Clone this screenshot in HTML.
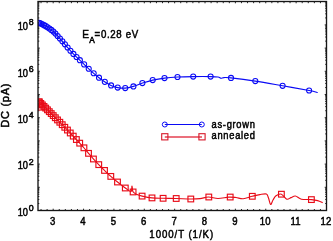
<!DOCTYPE html>
<html><head><meta charset="utf-8"><style>
html,body{margin:0;padding:0;background:#fff;width:333px;height:241px;overflow:hidden}
svg{display:block}
</style></head><body>
<svg width="333" height="241" viewBox="0 0 333 241"><rect width="333" height="241" fill="#fff"/><defs><clipPath id="c"><rect x="38.0" y="1.5" width="288.5" height="209.0"/></clipPath></defs><path d="M53.18,210.5v-1.8M53.18,1.5v1.8M83.55,210.5v-1.8M83.55,1.5v1.8M113.92,210.5v-1.8M113.92,1.5v1.8M144.29,210.5v-1.8M144.29,1.5v1.8M174.66,210.5v-1.8M174.66,1.5v1.8M205.03,210.5v-1.8M205.03,1.5v1.8M235.39,210.5v-1.8M235.39,1.5v1.8M265.76,210.5v-1.8M265.76,1.5v1.8M296.13,210.5v-1.8M296.13,1.5v1.8M326.50,210.5v-1.8M326.50,1.5v1.8M41.04,210.5v-1.5M41.04,1.5v1.7M47.11,210.5v-1.5M47.11,1.5v1.7M59.26,210.5v-1.5M59.26,1.5v1.7M65.33,210.5v-1.5M65.33,1.5v1.7M71.41,210.5v-1.5M71.41,1.5v1.7M77.48,210.5v-1.5M77.48,1.5v1.7M89.63,210.5v-1.5M89.63,1.5v1.7M95.70,210.5v-1.5M95.70,1.5v1.7M101.77,210.5v-1.5M101.77,1.5v1.7M107.85,210.5v-1.5M107.85,1.5v1.7M119.99,210.5v-1.5M119.99,1.5v1.7M126.07,210.5v-1.5M126.07,1.5v1.7M132.14,210.5v-1.5M132.14,1.5v1.7M138.22,210.5v-1.5M138.22,1.5v1.7M150.36,210.5v-1.5M150.36,1.5v1.7M156.44,210.5v-1.5M156.44,1.5v1.7M162.51,210.5v-1.5M162.51,1.5v1.7M168.58,210.5v-1.5M168.58,1.5v1.7M180.73,210.5v-1.5M180.73,1.5v1.7M186.81,210.5v-1.5M186.81,1.5v1.7M192.88,210.5v-1.5M192.88,1.5v1.7M198.95,210.5v-1.5M198.95,1.5v1.7M211.10,210.5v-1.5M211.10,1.5v1.7M217.17,210.5v-1.5M217.17,1.5v1.7M223.25,210.5v-1.5M223.25,1.5v1.7M229.32,210.5v-1.5M229.32,1.5v1.7M241.47,210.5v-1.5M241.47,1.5v1.7M247.54,210.5v-1.5M247.54,1.5v1.7M253.62,210.5v-1.5M253.62,1.5v1.7M259.69,210.5v-1.5M259.69,1.5v1.7M271.84,210.5v-1.5M271.84,1.5v1.7M277.91,210.5v-1.5M277.91,1.5v1.7M283.98,210.5v-1.5M283.98,1.5v1.7M290.06,210.5v-1.5M290.06,1.5v1.7M302.21,210.5v-1.5M302.21,1.5v1.7M308.28,210.5v-1.5M308.28,1.5v1.7M314.35,210.5v-1.5M314.35,1.5v1.7M320.43,210.5v-1.5M320.43,1.5v1.7M38.0,210.50h1.8M326.5,210.50h-1.8M38.0,203.52h1.3M326.5,203.52h-1.3M38.0,199.43h1.3M326.5,199.43h-1.3M38.0,196.53h1.3M326.5,196.53h-1.3M38.0,194.28h1.3M326.5,194.28h-1.3M38.0,192.45h1.3M326.5,192.45h-1.3M38.0,190.89h1.3M326.5,190.89h-1.3M38.0,189.55h1.3M326.5,189.55h-1.3M38.0,188.36h1.3M326.5,188.36h-1.3M38.0,187.30h1.8M326.5,187.30h-1.8M38.0,180.32h1.3M326.5,180.32h-1.3M38.0,176.23h1.3M326.5,176.23h-1.3M38.0,173.33h1.3M326.5,173.33h-1.3M38.0,171.08h1.3M326.5,171.08h-1.3M38.0,169.25h1.3M326.5,169.25h-1.3M38.0,167.69h1.3M326.5,167.69h-1.3M38.0,166.35h1.3M326.5,166.35h-1.3M38.0,165.16h1.3M326.5,165.16h-1.3M38.0,164.10h1.8M326.5,164.10h-1.8M38.0,157.12h1.3M326.5,157.12h-1.3M38.0,153.03h1.3M326.5,153.03h-1.3M38.0,150.13h1.3M326.5,150.13h-1.3M38.0,147.88h1.3M326.5,147.88h-1.3M38.0,146.05h1.3M326.5,146.05h-1.3M38.0,144.49h1.3M326.5,144.49h-1.3M38.0,143.15h1.3M326.5,143.15h-1.3M38.0,141.96h1.3M326.5,141.96h-1.3M38.0,140.90h1.8M326.5,140.90h-1.8M38.0,133.92h1.3M326.5,133.92h-1.3M38.0,129.83h1.3M326.5,129.83h-1.3M38.0,126.93h1.3M326.5,126.93h-1.3M38.0,124.68h1.3M326.5,124.68h-1.3M38.0,122.85h1.3M326.5,122.85h-1.3M38.0,121.29h1.3M326.5,121.29h-1.3M38.0,119.95h1.3M326.5,119.95h-1.3M38.0,118.76h1.3M326.5,118.76h-1.3M38.0,117.70h1.8M326.5,117.70h-1.8M38.0,110.72h1.3M326.5,110.72h-1.3M38.0,106.63h1.3M326.5,106.63h-1.3M38.0,103.73h1.3M326.5,103.73h-1.3M38.0,101.48h1.3M326.5,101.48h-1.3M38.0,99.65h1.3M326.5,99.65h-1.3M38.0,98.09h1.3M326.5,98.09h-1.3M38.0,96.75h1.3M326.5,96.75h-1.3M38.0,95.56h1.3M326.5,95.56h-1.3M38.0,94.50h1.8M326.5,94.50h-1.8M38.0,87.52h1.3M326.5,87.52h-1.3M38.0,83.43h1.3M326.5,83.43h-1.3M38.0,80.53h1.3M326.5,80.53h-1.3M38.0,78.28h1.3M326.5,78.28h-1.3M38.0,76.45h1.3M326.5,76.45h-1.3M38.0,74.89h1.3M326.5,74.89h-1.3M38.0,73.55h1.3M326.5,73.55h-1.3M38.0,72.36h1.3M326.5,72.36h-1.3M38.0,71.30h1.8M326.5,71.30h-1.8M38.0,64.32h1.3M326.5,64.32h-1.3M38.0,60.23h1.3M326.5,60.23h-1.3M38.0,57.33h1.3M326.5,57.33h-1.3M38.0,55.08h1.3M326.5,55.08h-1.3M38.0,53.25h1.3M326.5,53.25h-1.3M38.0,51.69h1.3M326.5,51.69h-1.3M38.0,50.35h1.3M326.5,50.35h-1.3M38.0,49.16h1.3M326.5,49.16h-1.3M38.0,48.10h1.8M326.5,48.10h-1.8M38.0,41.12h1.3M326.5,41.12h-1.3M38.0,37.03h1.3M326.5,37.03h-1.3M38.0,34.13h1.3M326.5,34.13h-1.3M38.0,31.88h1.3M326.5,31.88h-1.3M38.0,30.05h1.3M326.5,30.05h-1.3M38.0,28.49h1.3M326.5,28.49h-1.3M38.0,27.15h1.3M326.5,27.15h-1.3M38.0,25.96h1.3M326.5,25.96h-1.3M38.0,24.90h1.8M326.5,24.90h-1.8M38.0,17.92h1.3M326.5,17.92h-1.3M38.0,13.83h1.3M326.5,13.83h-1.3M38.0,10.93h1.3M326.5,10.93h-1.3M38.0,8.68h1.3M326.5,8.68h-1.3M38.0,6.85h1.3M326.5,6.85h-1.3M38.0,5.29h1.3M326.5,5.29h-1.3M38.0,3.95h1.3M326.5,3.95h-1.3M38.0,2.76h1.3M326.5,2.76h-1.3M38.0,1.70h1.8M326.5,1.70h-1.8" stroke="#000" stroke-width="0.85" fill="none"/><g clip-path="url(#c)"><path d="M36.00,21.60 C36.33,21.73 36.83,21.90 38.00,22.40 C39.17,22.90 41.27,23.70 43.00,24.60 C44.73,25.50 46.57,26.53 48.40,27.80 C50.23,29.07 51.92,30.23 54.00,32.20 C56.08,34.17 58.73,37.17 60.90,39.60 C63.07,42.03 64.93,44.43 67.00,46.80 C69.07,49.17 71.13,51.55 73.30,53.80 C75.47,56.05 77.92,58.27 80.00,60.30 C82.08,62.33 83.80,64.08 85.80,66.00 C87.80,67.92 89.80,69.85 92.00,71.80 C94.20,73.75 96.83,76.00 99.00,77.70 C101.17,79.40 103.00,80.72 105.00,82.00 C107.00,83.28 108.88,84.47 111.00,85.40 C113.12,86.33 115.33,87.15 117.70,87.60 C120.07,88.05 122.58,88.30 125.20,88.10 C127.82,87.90 130.53,87.23 133.40,86.40 C136.27,85.57 139.18,84.15 142.40,83.10 C145.62,82.05 149.02,80.93 152.70,80.10 C156.38,79.27 160.37,78.62 164.50,78.10 C168.63,77.58 172.72,77.25 177.50,77.00 C182.28,76.75 187.68,76.67 193.20,76.60 C198.72,76.53 206.47,76.53 210.60,76.60 C214.73,76.67 216.27,76.73 218.00,77.00 C219.73,77.27 220.00,78.10 221.00,78.20 C222.00,78.30 222.33,77.65 224.00,77.60 C225.67,77.55 225.78,77.32 231.00,77.90 C236.22,78.48 246.70,79.78 255.30,81.10 C263.90,82.42 273.63,84.23 282.60,85.80 C291.57,87.37 303.25,89.38 309.10,90.50 C314.95,91.62 316.27,92.17 317.70,92.50" stroke="#0a0af5" stroke-width="1.1" fill="none"/><path d="M36.00,99.30 C36.42,99.63 36.83,99.78 38.50,101.30 C40.17,102.82 43.08,105.55 46.00,108.40 C48.92,111.25 52.97,115.35 56.00,118.40 C59.03,121.45 61.53,123.97 64.20,126.70 C66.87,129.43 69.20,131.82 72.00,134.80 C74.80,137.78 78.98,142.40 81.00,144.60 C83.02,146.80 82.88,146.58 84.10,148.00 C85.32,149.42 86.83,151.37 88.30,153.10 C89.77,154.83 91.17,156.48 92.90,158.40 C94.63,160.32 96.77,162.60 98.70,164.60 C100.63,166.60 102.48,168.43 104.50,170.40 C106.52,172.37 108.63,174.47 110.80,176.40 C112.97,178.33 115.08,180.07 117.50,182.00 C119.92,183.93 123.05,186.42 125.30,188.00 C127.55,189.58 129.88,191.83 131.00,191.50 C132.12,191.17 131.67,185.95 132.00,186.00 C132.33,186.05 132.17,190.38 133.00,191.80 C133.83,193.22 135.48,193.78 137.00,194.50 C138.52,195.22 139.60,195.53 142.10,196.10 C144.60,196.67 148.50,197.53 152.00,197.90 C155.50,198.27 159.07,198.20 163.10,198.30 C167.13,198.40 171.58,198.38 176.20,198.50 C180.82,198.62 186.83,198.98 190.80,199.00 C194.77,199.02 197.05,198.93 200.00,198.60 C202.95,198.27 205.50,197.02 208.50,197.00 C211.50,196.98 214.62,198.48 218.00,198.50 C221.38,198.52 225.80,197.27 228.80,197.10 C231.80,196.93 233.60,197.23 236.00,197.50 C238.40,197.77 240.48,198.90 243.20,198.70 C245.92,198.50 249.53,196.98 252.30,196.30 C255.07,195.62 257.45,194.98 259.80,194.60 C262.15,194.22 264.95,193.43 266.40,194.00 C267.85,194.57 267.80,196.25 268.50,198.00 C269.20,199.75 269.85,204.17 270.60,204.50 C271.35,204.83 272.10,201.45 273.00,200.00 C273.90,198.55 274.60,196.77 276.00,195.80 C277.40,194.83 279.60,193.63 281.40,194.20 C283.20,194.77 285.20,198.63 286.80,199.20 C288.40,199.77 289.57,198.13 291.00,197.60 C292.43,197.07 293.67,195.73 295.40,196.00 C297.13,196.27 298.73,198.60 301.40,199.20 C304.07,199.80 308.70,199.37 311.40,199.60 C314.10,199.83 315.72,200.07 317.60,200.60 C319.48,201.13 321.85,202.43 322.70,202.80" stroke="#e80c18" stroke-width="1.15" fill="none" stroke-linejoin="round"/><circle cx="39.00" cy="22.82" r="2.55" stroke="#0a0af5" stroke-width="1.05" fill="none"/><circle cx="39.39" cy="22.98" r="2.55" stroke="#0a0af5" stroke-width="1.05" fill="none"/><circle cx="40.90" cy="23.61" r="2.55" stroke="#0a0af5" stroke-width="1.05" fill="none"/><circle cx="42.46" cy="24.33" r="2.55" stroke="#0a0af5" stroke-width="1.05" fill="none"/><circle cx="44.09" cy="25.18" r="2.55" stroke="#0a0af5" stroke-width="1.05" fill="none"/><circle cx="45.79" cy="26.14" r="2.55" stroke="#0a0af5" stroke-width="1.05" fill="none"/><circle cx="47.55" cy="27.23" r="2.55" stroke="#0a0af5" stroke-width="1.05" fill="none"/><circle cx="49.40" cy="28.49" r="2.55" stroke="#0a0af5" stroke-width="1.05" fill="none"/><circle cx="51.32" cy="29.90" r="2.55" stroke="#0a0af5" stroke-width="1.05" fill="none"/><circle cx="53.33" cy="31.59" r="2.55" stroke="#0a0af5" stroke-width="1.05" fill="none"/><circle cx="55.44" cy="33.62" r="2.55" stroke="#0a0af5" stroke-width="1.05" fill="none"/><circle cx="57.64" cy="35.97" r="2.55" stroke="#0a0af5" stroke-width="1.05" fill="none"/><circle cx="59.95" cy="38.53" r="2.55" stroke="#0a0af5" stroke-width="1.05" fill="none"/><circle cx="62.38" cy="41.30" r="2.55" stroke="#0a0af5" stroke-width="1.05" fill="none"/><circle cx="64.92" cy="44.35" r="2.55" stroke="#0a0af5" stroke-width="1.05" fill="none"/><circle cx="67.60" cy="47.49" r="2.55" stroke="#0a0af5" stroke-width="1.05" fill="none"/><circle cx="70.43" cy="50.70" r="2.55" stroke="#0a0af5" stroke-width="1.05" fill="none"/><circle cx="73.41" cy="53.91" r="2.55" stroke="#0a0af5" stroke-width="1.05" fill="none"/><circle cx="76.55" cy="57.01" r="2.55" stroke="#0a0af5" stroke-width="1.05" fill="none"/><circle cx="79.88" cy="60.19" r="2.55" stroke="#0a0af5" stroke-width="1.05" fill="none"/><circle cx="84.15" cy="64.39" r="2.55" stroke="#0a0af5" stroke-width="1.05" fill="none"/><circle cx="88.73" cy="68.79" r="2.55" stroke="#0a0af5" stroke-width="1.05" fill="none"/><circle cx="93.67" cy="73.26" r="2.55" stroke="#0a0af5" stroke-width="1.05" fill="none"/><circle cx="99.01" cy="77.70" r="2.55" stroke="#0a0af5" stroke-width="1.05" fill="none"/><circle cx="104.80" cy="81.87" r="2.55" stroke="#0a0af5" stroke-width="1.05" fill="none"/><circle cx="111.10" cy="85.44" r="2.55" stroke="#0a0af5" stroke-width="1.05" fill="none"/><circle cx="117.70" cy="87.60" r="2.55" stroke="#0a0af5" stroke-width="1.05" fill="none"/><circle cx="125.25" cy="88.10" r="2.55" stroke="#0a0af5" stroke-width="1.05" fill="none"/><circle cx="133.40" cy="86.40" r="2.55" stroke="#0a0af5" stroke-width="1.05" fill="none"/><circle cx="142.40" cy="83.10" r="2.55" stroke="#0a0af5" stroke-width="1.05" fill="none"/><circle cx="152.70" cy="80.10" r="2.55" stroke="#0a0af5" stroke-width="1.05" fill="none"/><circle cx="164.50" cy="78.10" r="2.55" stroke="#0a0af5" stroke-width="1.05" fill="none"/><circle cx="177.50" cy="77.00" r="2.55" stroke="#0a0af5" stroke-width="1.05" fill="none"/><circle cx="193.20" cy="76.60" r="2.55" stroke="#0a0af5" stroke-width="1.05" fill="none"/><circle cx="210.60" cy="76.60" r="2.55" stroke="#0a0af5" stroke-width="1.05" fill="none"/><circle cx="231.00" cy="77.90" r="2.55" stroke="#0a0af5" stroke-width="1.05" fill="none"/><circle cx="255.30" cy="81.10" r="2.55" stroke="#0a0af5" stroke-width="1.05" fill="none"/><circle cx="282.60" cy="85.80" r="2.55" stroke="#0a0af5" stroke-width="1.05" fill="none"/><circle cx="309.10" cy="90.50" r="2.55" stroke="#0a0af5" stroke-width="1.05" fill="none"/><rect x="36.15" y="98.91" width="5.7" height="5.7" stroke="#e80c18" stroke-width="1.15" fill="none"/><rect x="36.46" y="99.20" width="5.7" height="5.7" stroke="#e80c18" stroke-width="1.15" fill="none"/><rect x="37.97" y="100.59" width="5.7" height="5.7" stroke="#e80c18" stroke-width="1.15" fill="none"/><rect x="39.53" y="102.06" width="5.7" height="5.7" stroke="#e80c18" stroke-width="1.15" fill="none"/><rect x="41.15" y="103.61" width="5.7" height="5.7" stroke="#e80c18" stroke-width="1.15" fill="none"/><rect x="42.84" y="105.25" width="5.7" height="5.7" stroke="#e80c18" stroke-width="1.15" fill="none"/><rect x="44.61" y="106.98" width="5.7" height="5.7" stroke="#e80c18" stroke-width="1.15" fill="none"/><rect x="46.45" y="108.81" width="5.7" height="5.7" stroke="#e80c18" stroke-width="1.15" fill="none"/><rect x="48.37" y="110.73" width="5.7" height="5.7" stroke="#e80c18" stroke-width="1.15" fill="none"/><rect x="50.37" y="112.75" width="5.7" height="5.7" stroke="#e80c18" stroke-width="1.15" fill="none"/><rect x="52.47" y="114.87" width="5.7" height="5.7" stroke="#e80c18" stroke-width="1.15" fill="none"/><rect x="54.67" y="117.08" width="5.7" height="5.7" stroke="#e80c18" stroke-width="1.15" fill="none"/><rect x="56.97" y="119.40" width="5.7" height="5.7" stroke="#e80c18" stroke-width="1.15" fill="none"/><rect x="59.39" y="121.85" width="5.7" height="5.7" stroke="#e80c18" stroke-width="1.15" fill="none"/><rect x="61.93" y="124.44" width="5.7" height="5.7" stroke="#e80c18" stroke-width="1.15" fill="none"/><rect x="64.60" y="127.19" width="5.7" height="5.7" stroke="#e80c18" stroke-width="1.15" fill="none"/><rect x="67.42" y="130.12" width="5.7" height="5.7" stroke="#e80c18" stroke-width="1.15" fill="none"/><rect x="70.39" y="133.28" width="5.7" height="5.7" stroke="#e80c18" stroke-width="1.15" fill="none"/><rect x="73.53" y="136.69" width="5.7" height="5.7" stroke="#e80c18" stroke-width="1.15" fill="none"/><rect x="76.85" y="140.32" width="5.7" height="5.7" stroke="#e80c18" stroke-width="1.15" fill="none"/><rect x="81.09" y="144.97" width="5.7" height="5.7" stroke="#e80c18" stroke-width="1.15" fill="none"/><rect x="85.66" y="150.50" width="5.7" height="5.7" stroke="#e80c18" stroke-width="1.15" fill="none"/><rect x="90.58" y="156.14" width="5.7" height="5.7" stroke="#e80c18" stroke-width="1.15" fill="none"/><rect x="95.90" y="161.80" width="5.7" height="5.7" stroke="#e80c18" stroke-width="1.15" fill="none"/><rect x="101.67" y="167.57" width="5.7" height="5.7" stroke="#e80c18" stroke-width="1.15" fill="none"/><rect x="107.95" y="173.55" width="5.7" height="5.7" stroke="#e80c18" stroke-width="1.15" fill="none"/><rect x="114.65" y="179.15" width="5.7" height="5.7" stroke="#e80c18" stroke-width="1.15" fill="none"/><rect x="122.45" y="185.15" width="5.7" height="5.7" stroke="#e80c18" stroke-width="1.15" fill="none"/><rect x="130.25" y="189.11" width="5.7" height="5.7" stroke="#e80c18" stroke-width="1.15" fill="none"/><rect x="139.25" y="193.25" width="5.7" height="5.7" stroke="#e80c18" stroke-width="1.15" fill="none"/><rect x="149.15" y="195.05" width="5.7" height="5.7" stroke="#e80c18" stroke-width="1.15" fill="none"/><rect x="160.25" y="195.45" width="5.7" height="5.7" stroke="#e80c18" stroke-width="1.15" fill="none"/><rect x="173.35" y="195.65" width="5.7" height="5.7" stroke="#e80c18" stroke-width="1.15" fill="none"/><rect x="187.95" y="196.15" width="5.7" height="5.7" stroke="#e80c18" stroke-width="1.15" fill="none"/><rect x="205.95" y="194.16" width="5.7" height="5.7" stroke="#e80c18" stroke-width="1.15" fill="none"/><rect x="227.35" y="194.20" width="5.7" height="5.7" stroke="#e80c18" stroke-width="1.15" fill="none"/><rect x="249.45" y="193.45" width="5.7" height="5.7" stroke="#e80c18" stroke-width="1.15" fill="none"/><rect x="278.55" y="191.35" width="5.7" height="5.7" stroke="#e80c18" stroke-width="1.15" fill="none"/><rect x="308.55" y="196.75" width="5.7" height="5.7" stroke="#e80c18" stroke-width="1.15" fill="none"/><rect x="36.75" y="101.95" width="5.7" height="5.7" stroke="#e80c18" stroke-width="1.15" fill="none"/><rect x="38.35" y="104.35" width="5.7" height="5.7" stroke="#e80c18" stroke-width="1.15" fill="none"/></g><rect x="38.0" y="1.5" width="288.5" height="209.0" stroke="#151515" stroke-width="1.35" fill="none"/><text transform="translate(52.58,224.6) scale(0.87,1)" font-size="11" text-anchor="middle" font-family="Liberation Sans, Arial, sans-serif" stroke="#000" stroke-width="0.5">3</text><text transform="translate(82.95,224.6) scale(0.87,1)" font-size="11" text-anchor="middle" font-family="Liberation Sans, Arial, sans-serif" stroke="#000" stroke-width="0.5">4</text><text transform="translate(113.32,224.6) scale(0.87,1)" font-size="11" text-anchor="middle" font-family="Liberation Sans, Arial, sans-serif" stroke="#000" stroke-width="0.5">5</text><text transform="translate(143.69,224.6) scale(0.87,1)" font-size="11" text-anchor="middle" font-family="Liberation Sans, Arial, sans-serif" stroke="#000" stroke-width="0.5">6</text><text transform="translate(174.06,224.6) scale(0.87,1)" font-size="11" text-anchor="middle" font-family="Liberation Sans, Arial, sans-serif" stroke="#000" stroke-width="0.5">7</text><text transform="translate(204.43,224.6) scale(0.87,1)" font-size="11" text-anchor="middle" font-family="Liberation Sans, Arial, sans-serif" stroke="#000" stroke-width="0.5">8</text><text transform="translate(234.79,224.6) scale(0.87,1)" font-size="11" text-anchor="middle" font-family="Liberation Sans, Arial, sans-serif" stroke="#000" stroke-width="0.5">9</text><text transform="translate(265.16,224.6) scale(0.87,1)" font-size="11" text-anchor="middle" font-family="Liberation Sans, Arial, sans-serif" stroke="#000" stroke-width="0.5">10</text><text transform="translate(295.53,224.6) scale(0.87,1)" font-size="11" text-anchor="middle" font-family="Liberation Sans, Arial, sans-serif" stroke="#000" stroke-width="0.5">11</text><text transform="translate(325.90,224.6) scale(0.87,1)" font-size="11" text-anchor="middle" font-family="Liberation Sans, Arial, sans-serif" stroke="#000" stroke-width="0.5">12</text><text transform="translate(28.0,215.80) scale(0.87,1)" font-size="10.7" text-anchor="end" font-family="Liberation Sans, Arial, sans-serif" stroke="#000" stroke-width="0.5">10</text><text x="28.8" y="210.90" font-size="8.8" font-family="Liberation Sans, Arial, sans-serif" stroke="#000" stroke-width="0.5">0</text><text transform="translate(28.0,169.40) scale(0.87,1)" font-size="10.7" text-anchor="end" font-family="Liberation Sans, Arial, sans-serif" stroke="#000" stroke-width="0.5">10</text><text x="28.8" y="164.50" font-size="8.8" font-family="Liberation Sans, Arial, sans-serif" stroke="#000" stroke-width="0.5">2</text><text transform="translate(28.0,123.00) scale(0.87,1)" font-size="10.7" text-anchor="end" font-family="Liberation Sans, Arial, sans-serif" stroke="#000" stroke-width="0.5">10</text><text x="28.8" y="118.10" font-size="8.8" font-family="Liberation Sans, Arial, sans-serif" stroke="#000" stroke-width="0.5">4</text><text transform="translate(28.0,76.60) scale(0.87,1)" font-size="10.7" text-anchor="end" font-family="Liberation Sans, Arial, sans-serif" stroke="#000" stroke-width="0.5">10</text><text x="28.8" y="71.70" font-size="8.8" font-family="Liberation Sans, Arial, sans-serif" stroke="#000" stroke-width="0.5">6</text><text transform="translate(28.0,30.20) scale(0.87,1)" font-size="10.7" text-anchor="end" font-family="Liberation Sans, Arial, sans-serif" stroke="#000" stroke-width="0.5">10</text><text x="28.8" y="25.30" font-size="8.8" font-family="Liberation Sans, Arial, sans-serif" stroke="#000" stroke-width="0.5">8</text><text transform="translate(181.7,238.2) scale(0.88,1)" font-size="11" letter-spacing="1.05" text-anchor="middle" font-family="Liberation Sans, Arial, sans-serif" stroke="#000" stroke-width="0.5">1000/T (1/K)</text><text transform="translate(9.4,105.3) rotate(-90)" font-size="11" letter-spacing="0.75" text-anchor="middle" font-family="Liberation Sans, Arial, sans-serif" stroke="#000" stroke-width="0.5">DC (pA)</text><text transform="translate(82.2,38.1) scale(0.92,1)" font-size="11" font-family="Liberation Sans, Arial, sans-serif" stroke="#000" stroke-width="0.5">E</text><text x="89.2" y="42.6" font-size="8.3" font-family="Liberation Sans, Arial, sans-serif" stroke="#000" stroke-width="0.5">A</text><text transform="translate(94.6,38.1) scale(0.88,1)" font-size="11" letter-spacing="0.75" font-family="Liberation Sans, Arial, sans-serif" stroke="#000" stroke-width="0.5">=0.28 eV</text><path d="M164.8,124.5H201.8" stroke="#0a0af5" stroke-width="1.1"/><circle cx="164.8" cy="124.5" r="2.5" stroke="#0a0af5" fill="none"/><circle cx="201.8" cy="124.5" r="2.5" stroke="#0a0af5" fill="none"/><path d="M164.8,137H202" stroke="#e44050" stroke-width="1.35"/><rect x="161.7" y="133.7" width="6.2" height="6.2" stroke="#d81828" stroke-width="1.1" fill="none"/><rect x="198.9" y="133.7" width="6.2" height="6.2" stroke="#d81828" stroke-width="1.1" fill="none"/><text transform="translate(211.6,128.2) scale(0.88,1)" font-size="10.6" letter-spacing="0.8" font-family="Liberation Sans, Arial, sans-serif" stroke="#000" stroke-width="0.5">as-grown</text><text transform="translate(211.6,138.9) scale(0.88,1)" font-size="10.6" letter-spacing="0.8" font-family="Liberation Sans, Arial, sans-serif" stroke="#000" stroke-width="0.5">annealed</text></svg>
</body></html>
